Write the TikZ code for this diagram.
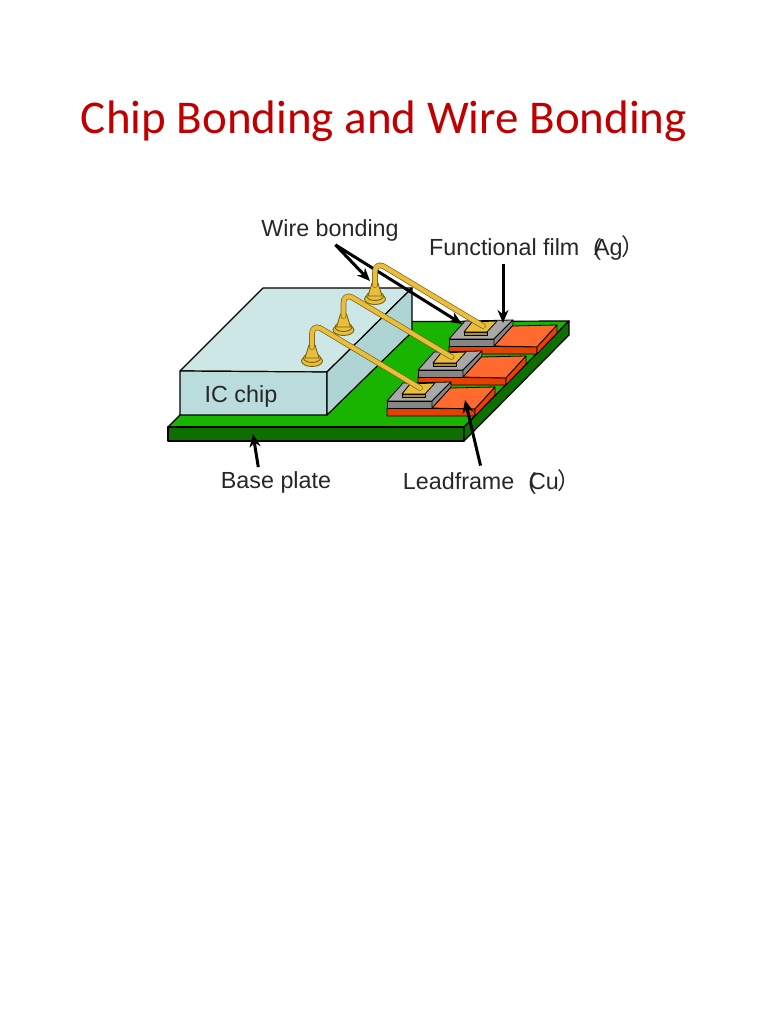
\documentclass[tikz,border=0pt]{standalone}
\usepackage{fontspec}
\setmainfont{Liberation Sans}
\newfontfamily\titlefont{Carlito}
\newfontfamily\cjkfont{Noto Sans CJK SC}
\usetikzlibrary{arrows.meta}
\definecolor{titlered}{HTML}{C00000}
\definecolor{platetop}{HTML}{18B400}
\definecolor{platefront}{HTML}{0F6E00}
\definecolor{chiptop}{HTML}{CDE6E6}
\definecolor{chipfront}{HTML}{BBDCDC}
\definecolor{chipside}{HTML}{AED4D4}
\definecolor{framered}{HTML}{E84000}
\definecolor{frametop}{HTML}{FF6A2E}
\definecolor{padgray}{HTML}{A8A8A8}
\definecolor{padfront}{HTML}{868686}
\definecolor{wiregold}{HTML}{E8BE3C}
\definecolor{wireedge}{HTML}{7A6414}
\begin{document}
\begin{tikzpicture}[x=1pt,y=-1pt]
        \tikzstyle{label}=[font=\fontsize{23.3}{26}\selectfont,text=black!85,outer sep=2pt,inner sep=2pt]
        \tikzstyle{face}=[draw=black,line width=1.2pt,line join=round]
        \tikzstyle{small}=[draw=black,line width=0.8pt,line join=round]
        \tikzstyle{pointer}=[draw=black,line width=3pt,-{Stealth[length=13pt,width=11pt]}]
        \useasboundingbox (0,0) rectangle (768,1024);

            \node[font=\titlefont\fontsize{47}{52}\selectfont,text=titlered] (title) at (384,121) {Chip Bonding and Wire Bonding};

            % base plate
            \fill[face,fill=platetop] (180,415) -- (263,322) -- (569,321) -- (464,427) -- (168,427) -- cycle;
            \fill[face,fill=platefront] (168,427) -- (464,427) -- (464,441) -- (168,441) -- cycle;
            \fill[face,fill=platefront] (464,427) -- (569,321) -- (569,335) -- (464,441) -- cycle;

            % chip
            \fill[face,fill=chiptop] (180,371) -- (263,288) -- (412,288) -- (327,372) -- cycle;
            \fill[face,fill=chipfront] (180,371) -- (327,372) -- (327,415) -- (180,415) -- cycle;
            \fill[face,fill=chipside] (327,372) -- (412,288) -- (412,332) -- (327,415) -- cycle;

            % leadframes and pads
            \foreach \i in {2,1,0} {
            \begin{scope}[shift={(31*\i,-31*\i)}]
                \fill[small,fill=frametop] (432,408) -- (450,388) -- (495,387) -- (475,409) -- cycle;
                \fill[small,fill=framered] (387,408) -- (475,409) -- (475,416) -- (387,416) -- cycle;
                \fill[small,fill=framered] (475,409) -- (495,387) -- (495,395) -- (475,416) -- cycle;
                \fill[small,fill=padgray] (387,401) -- (403,383) -- (451,382) -- (432,401) -- cycle;
                \fill[small,fill=padfront] (387,401) -- (432,401) -- (432,408) -- (387,408) -- cycle;
                \fill[small,fill=padfront] (432,401) -- (451,382) -- (451,387) -- (432,408) -- cycle;
                \fill[small,fill=wiregold!75!black] (402,394) -- (425,394) -- (425,397) -- (402,397) -- cycle;
                \fill[small,fill=wiregold] (402,394) -- (410,384) -- (435,383) -- (425,394) -- cycle;
            \end{scope}
            }

            % labels
            \node[label] (wirelabel) at (330,230) {Wire bonding};
            \node[label] (filmlabel) at (537,248) {Functional film\kern.6em(\kern-.3em Ag{\cjkfont\kern-.05em ）}};
            \node[label] (chiplabel) at (241,396) {IC chip};
            \node[label] (baselabel) at (276,482) {Base plate};
            \node[label] (leadlabel) at (492,482) {Leadframe\kern.6em(\kern-.3em Cu{\cjkfont\kern-.05em ）}};

            \coordinate (balltip) at (370,281);
            \coordinate (padtip) at (462,324);
            \coordinate (filmtip) at (503,323);
            \coordinate (leadtip) at (465,400);
            \coordinate (basetip) at (253,434);

            \draw[pointer] (wirelabel.-70) -- (balltip);
            \draw[pointer] (wirelabel.-70) -- (padtip);
            \draw[pointer] (filmlabel.south -| filmtip) -- (filmtip);
            \draw[pointer] (leadlabel.125) -- (leadtip);
            \draw[pointer] (baselabel.140) -- (basetip);

            % wires
            \foreach \i in {0,1,2} {
            \begin{scope}[shift={(31.5*\i,-31*\i)}]
                \fill[draw=wireedge,line width=0.9pt,fill=wiregold] (312,361) ellipse (10.5 and 5.5);
                \fill[draw=wireedge,line width=0.9pt,fill=wiregold] (312,358) ellipse (8.5 and 4.5);
                \fill[draw=wireedge,line width=0.9pt,fill=wiregold] (309,345) -- (315,345) -- (319,358) -- (305,358) -- cycle;
                \draw[wireedge,line width=5.6pt,line cap=round,line join=round] (312,347) -- (312,334) .. controls (312,329) and (315,326) .. (320,328) -- (420,388);
                \draw[wiregold,line width=4.2pt,line cap=round,line join=round] (312,347) -- (312,334) .. controls (312,329) and (315,326) .. (320,328) -- (420,388);
            \end{scope}
            }
        \end{tikzpicture}
\end{document}
